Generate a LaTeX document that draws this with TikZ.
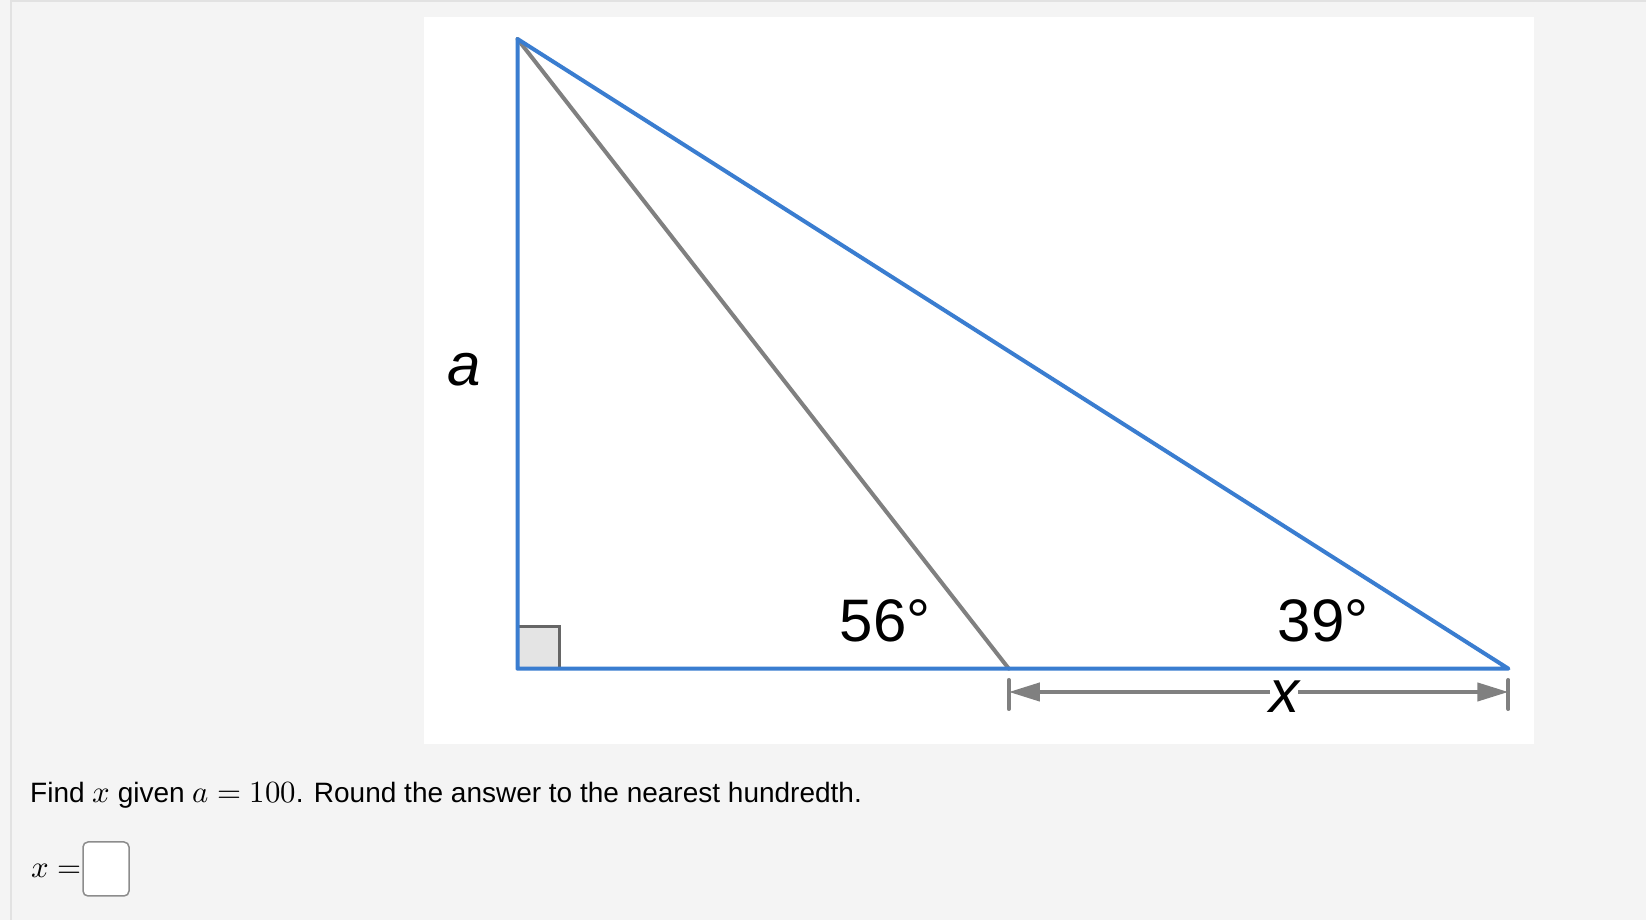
\documentclass[tikz,border=0pt]{standalone}
\usepackage{fontspec}
\setmainfont{Liberation Sans}
\newfontfamily\lmm[Scale=1.1]{Latin Modern Math}
\usetikzlibrary{arrows.meta}
\definecolor{bg}{HTML}{F4F4F4}
\definecolor{edge}{HTML}{E2E2E2}
\definecolor{triblue}{HTML}{3A7DD0}
\definecolor{gline}{HTML}{808080}
\definecolor{sqfill}{HTML}{E4E4E4}
\definecolor{sqline}{HTML}{666666}
\newcommand{\mx}{{\lmm 𝑥}}
\newcommand{\ma}{{\lmm 𝑎}}
\newcommand{\meq}{\hspace{0.3em}{\lmm =}\hspace{0.3em}}
\tikzset{
  side/.style={draw=triblue,line width=4pt,line cap=round,line join=round},
  inner/.style={draw=gline,line width=4pt,line cap=round},
  lab/.style={font=\fontsize{60}{60}\selectfont,inner sep=0pt},
  dimline/.style={draw=gline,line width=4pt},
  tick/.style={draw=gline,line width=4pt,line cap=round},
  qtext/.style={anchor=base west,inner sep=0pt,font=\fontsize{28}{32}\selectfont},
}
\begin{document}
\begin{tikzpicture}[x=1pt,y=1pt]
\useasboundingbox (0,0) rectangle (1646,920);
\fill[bg] (0,0) rectangle (1646,920);
\draw[edge,line width=2pt] (11,0) -- (11,919) -- (1646,919);
\fill[white] (424,920-744) rectangle (1534,920-17);
% vertices
\coordinate (A) at (517.5,920-39);
\coordinate (C) at (517.5,920-668.7);
\coordinate (D) at (1008.8,920-668.7);
\coordinate (B) at (1508.4,920-668.7);
% right angle square
\draw[sqline,fill=sqfill,line width=3.5pt] (C) rectangle ++(42,42);
% lines
\draw[inner] (A) -- (D);
\draw[side] (A) -- (C) -- (B) -- cycle;
% labels
\node[lab] (la) at (464,920-370) {\itshape a};
\node[lab] (l56) at (885,920-621) {56°};
\node[lab] (l39) at (1323,920-621) {39°};
% dimension
\coordinate (tD1) at (1008.8,920-680);
\coordinate (tD2) at (1008.8,920-709);
\coordinate (tB1) at (1508.4,920-680);
\coordinate (tB2) at (1508.4,920-709);
\draw[tick] (tD1) -- (tD2);
\draw[tick] (tB1) -- (tB2);
\node[lab] (lx) at (1284,920-697) {\itshape x};
\coordinate (dL) at (1008.8,920-692);
\coordinate (dR) at (1508.4,920-692);
\draw[dimline,-{Triangle[length=31pt,width=18pt]}] (1270,920-692) -- (dL);
\draw[dimline,-{Triangle[length=31pt,width=18pt]}] (1298,920-692) -- (dR);
% question text
\node[qtext] (q) at (30,920-803)
  {Find \mx{} given \ma\meq{\lmm 100}. Round the answer to the nearest hundredth.};
\node[qtext] (xe) at (31,920-878) {\mx\meq};
\draw[draw=gray!90,fill=white,line width=1.5pt,rounded corners=5pt] (83,920-896) rectangle (129,920-842);
\end{tikzpicture}
\end{document}
